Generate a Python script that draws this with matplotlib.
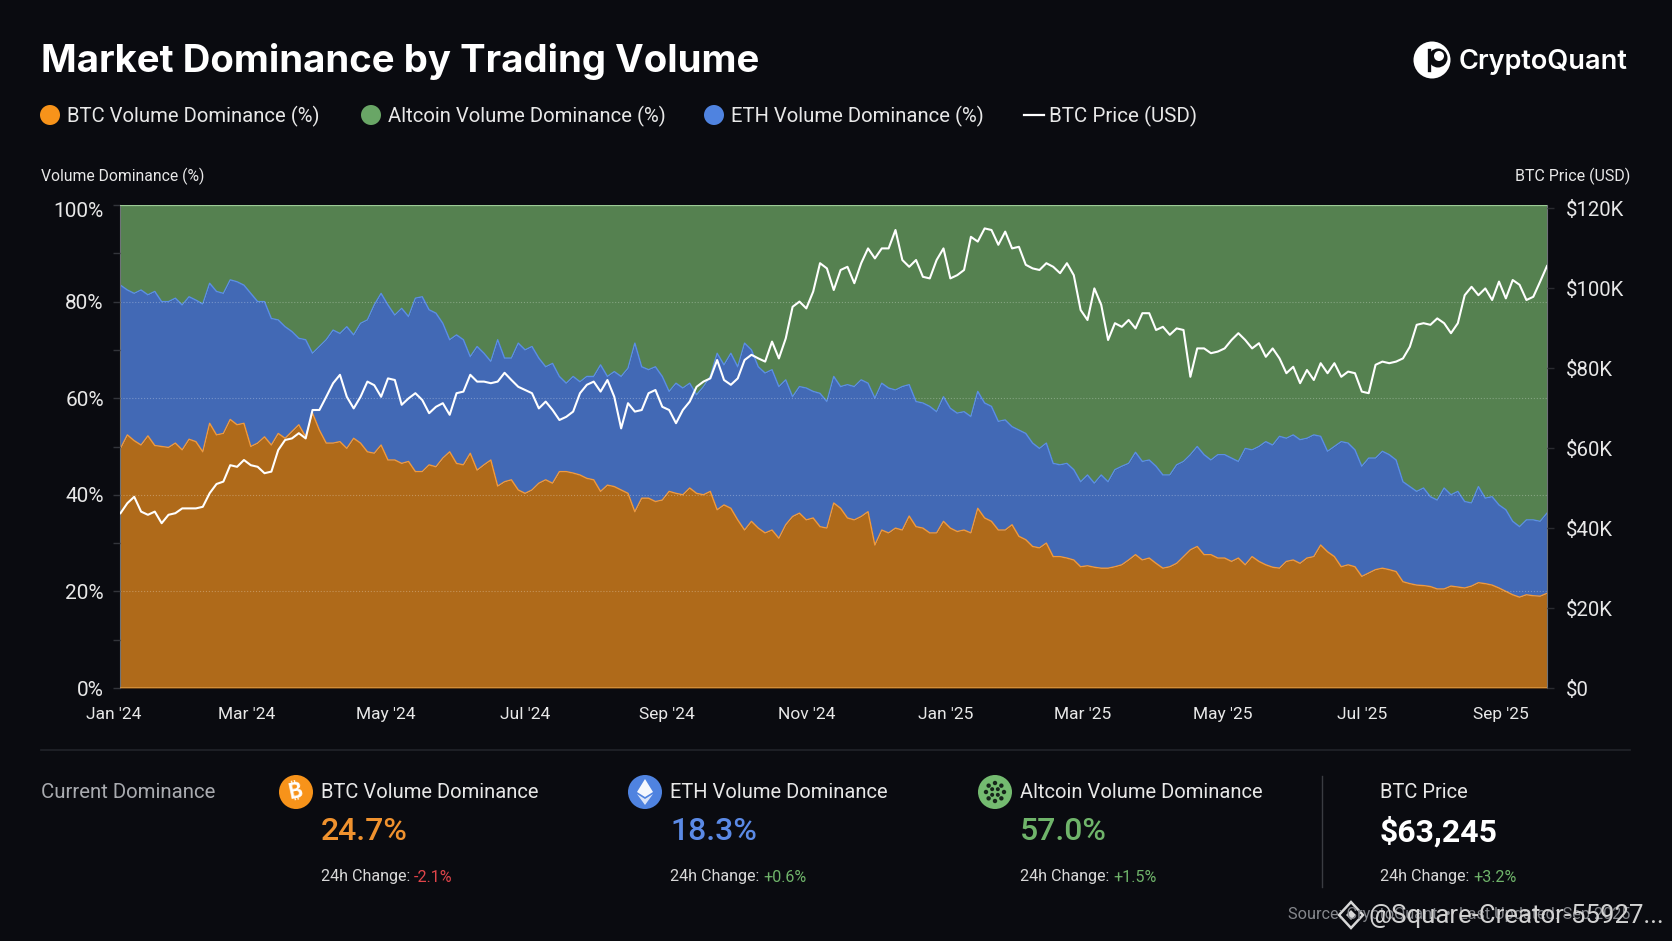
import numpy as np
import pandas as pd
import matplotlib
matplotlib.use('Agg')
import matplotlib.pyplot as plt
from matplotlib.patches import Circle, Polygon
from matplotlib.transforms import ScaledTranslation

plt.rcParams['font.family'] = ['Roboto', 'DejaVu Sans']

# values, one every 3 days
dates = pd.date_range('2024-01-06', periods=209, freq='3D')

btc_dom = [49.6, 52.4, 51.2, 50.3, 52.2, 50.2, 50.0, 49.8, 50.7, 49.3, 51.5, 51.0, 48.9, 54.8, 52.4, 52.7, 55.6, 54.5, 54.8, 50.0,
           50.7, 52.0, 50.3, 52.7, 51.7, 53.1, 54.5, 52.0, 56.9, 53.4, 50.7, 50.7, 51.0, 49.6, 51.7, 50.7, 48.9, 48.6, 50.3, 47.2,
           47.2, 46.5, 46.9, 44.8, 44.8, 46.2, 45.8, 47.6, 48.9, 46.5, 46.2, 48.6, 45.1, 46.2, 47.2, 41.8, 42.7, 43.1, 41.0, 40.3,
           41.0, 42.4, 43.1, 42.4, 44.8, 44.8, 44.5, 44.1, 43.4, 43.1, 40.7, 42.0, 41.7, 41.0, 40.3, 36.5, 39.3, 39.3, 38.6, 38.9,
           40.7, 40.3, 40.0, 41.4, 40.3, 40.0, 40.7, 36.9, 37.9, 37.2, 34.8, 32.7, 34.5, 33.1, 32.1, 32.7, 31.0, 33.8, 35.5, 36.2,
           34.8, 35.2, 33.4, 33.1, 38.3, 37.2, 35.2, 34.8, 35.5, 36.5, 29.6, 32.7, 32.1, 33.1, 32.7, 35.6, 33.4, 33.1, 32.1, 32.1,
           34.5, 33.1, 32.4, 32.7, 32.1, 37.2, 35.2, 34.5, 32.7, 32.7, 33.8, 31.4, 30.7, 29.3, 29.0, 30.0, 27.2, 27.2, 26.9, 26.5,
           25.1, 25.3, 25.0, 24.8, 24.8, 25.1, 25.5, 26.5, 27.6, 26.5, 26.9, 25.8, 24.8, 25.1, 25.8, 27.2, 28.6, 29.3, 27.6, 27.6,
           26.9, 26.9, 26.2, 26.9, 25.5, 27.2, 26.2, 25.5, 25.0, 24.8, 26.2, 26.5, 25.8, 26.9, 27.2, 29.6, 28.2, 27.2, 25.1, 25.5,
           25.1, 23.1, 23.8, 24.5, 24.8, 24.5, 24.1, 22.0, 21.6, 21.3, 21.2, 21.0, 20.5, 20.5, 21.1, 20.9, 20.7, 21.1, 21.8, 21.6,
           21.3, 20.7, 20.0, 19.3, 18.8, 19.3, 19.1, 19.0, 19.6]

# top of the ETH band (BTC + ETH)
btc_eth_dom = [83.4, 82.4, 81.7, 82.4, 81.4, 82.1, 80.0, 80.0, 80.7, 79.3, 81.0, 80.3, 79.5, 83.8, 82.1, 81.7, 84.5, 84.1, 83.4, 81.7,
               80.0, 80.0, 76.5, 76.2, 74.8, 73.8, 72.4, 72.1, 69.3, 70.7, 72.1, 74.1, 73.4, 74.8, 73.1, 75.5, 76.2, 79.3, 81.7, 79.3,
               77.2, 78.6, 76.9, 80.7, 81.0, 78.3, 77.6, 75.5, 72.1, 73.1, 72.1, 68.6, 70.7, 69.3, 67.6, 72.1, 68.3, 68.3, 71.4, 70.0,
               70.7, 68.3, 66.5, 67.2, 64.5, 63.1, 64.5, 63.4, 64.5, 64.5, 66.9, 64.5, 65.5, 64.5, 66.2, 71.4, 66.5, 65.9, 66.5, 64.5,
               61.4, 63.1, 62.1, 63.1, 60.7, 62.4, 64.5, 69.3, 66.9, 69.3, 66.5, 71.4, 70.0, 66.5, 65.2, 65.9, 62.4, 63.8, 60.3, 62.4,
               62.1, 61.4, 61.0, 59.3, 64.5, 62.4, 62.8, 62.4, 63.8, 63.1, 60.0, 63.1, 62.1, 61.7, 62.4, 62.8, 59.3, 59.0, 58.3, 57.2,
               60.3, 57.9, 56.9, 57.2, 56.2, 61.4, 59.0, 58.3, 55.2, 55.5, 54.1, 53.4, 52.7, 50.7, 49.6, 50.7, 46.5, 46.2, 46.5, 45.2,
               42.7, 44.1, 42.4, 44.1, 42.7, 45.2, 45.9, 46.5, 48.8, 46.9, 47.2, 45.9, 44.1, 44.1, 46.2, 46.9, 48.3, 50.0, 48.3, 47.2,
               48.3, 48.3, 47.6, 46.9, 49.6, 49.3, 50.0, 51.0, 50.3, 52.1, 51.7, 52.4, 51.4, 51.7, 52.4, 52.1, 49.0, 50.0, 51.0, 50.7,
               49.3, 45.9, 47.6, 47.6, 49.0, 48.3, 47.2, 42.7, 41.7, 40.7, 41.4, 39.6, 38.9, 41.4, 40.0, 40.7, 38.6, 38.3, 41.7, 39.3,
               39.6, 37.9, 36.9, 34.5, 33.4, 34.8, 34.8, 34.5, 36.2]

btc_price = [43.7, 46.2, 47.8, 44.1, 43.3, 44.1, 41.2, 43.3, 43.7, 44.9, 44.9, 44.9, 45.3, 48.7, 51.0, 51.6, 55.7, 55.3, 57.0, 55.7,
             55.3, 53.7, 54.1, 59.5, 62.0, 62.4, 63.7, 62.4, 69.5, 69.5, 72.8, 76.2, 78.3, 72.8, 69.9, 72.8, 76.6, 75.7, 72.8, 77.4,
             77.0, 70.8, 72.4, 73.7, 72.0, 68.7, 70.3, 71.2, 68.3, 73.7, 74.1, 78.3, 76.6, 76.6, 76.2, 76.6, 78.8, 77.0, 75.3, 74.5,
             73.7, 69.9, 71.6, 69.5, 67.0, 67.8, 69.1, 73.7, 75.8, 76.6, 74.1, 77.0, 72.8, 64.9, 71.2, 69.1, 69.5, 73.7, 74.5, 70.3,
             69.5, 66.2, 69.5, 71.6, 75.3, 76.6, 77.4, 82.0, 77.0, 75.8, 77.4, 82.0, 83.3, 82.4, 81.6, 86.6, 82.4, 87.4, 95.3, 96.6,
             94.9, 99.1, 106.2, 104.9, 99.5, 104.5, 105.3, 101.2, 106.2, 109.9, 107.4, 109.9, 109.9, 114.5, 107.0, 105.3, 107.0, 102.8, 102.4, 107.0,
             109.9, 102.4, 103.2, 104.5, 112.8, 111.6, 114.9, 114.5, 110.8, 114.1, 109.9, 110.3, 105.8, 104.9, 104.5, 106.2, 105.3, 103.7, 106.2, 103.2,
             94.5, 92.0, 99.9, 95.8, 87.0, 91.2, 90.3, 92.0, 89.9, 93.7, 93.7, 89.5, 90.3, 88.3, 89.9, 89.5, 77.8, 84.9, 84.9, 83.7,
             84.1, 84.9, 87.0, 88.7, 87.0, 84.9, 86.2, 82.8, 84.9, 82.4, 78.7, 80.3, 76.2, 79.5, 77.0, 81.2, 78.7, 81.2, 77.8, 79.1,
             78.7, 74.1, 73.7, 80.8, 81.6, 81.2, 81.6, 82.4, 85.3, 90.8, 91.2, 90.8, 92.4, 91.2, 88.7, 91.2, 98.2, 100.3, 98.2, 99.9,
             97.0, 101.6, 97.4, 102.0, 100.8, 97.0, 97.8, 101.6, 105.5]

month_ticks = ['2024-03-01', '2024-05-01', '2024-07-01', '2024-09-01', '2024-11-01', '2025-01-01', '2025-03-02', '2025-05-02', '2025-07-02', '2025-09-01']
month_labels = ["Mar '24", "May '24", "Jul '24", "Sep '24", "Nov '24", "Jan '25", "Mar '25", "May '25", "Jul '25", "Sep '25"]
pct_ticks = [0, 20, 40, 60, 80, 100]
price_ticks = [0, 20, 40, 60, 80, 100, 120]

BG = '#0a0b10'
W, H = 1672, 941
fig = plt.figure(figsize=(W / 100, H / 100), dpi=100, facecolor=BG)

# chart area in pixels
left, right, top, bottom = 120.5, 1547, 205, 688
ax = fig.add_axes([left / W, 1 - bottom / H, (right - left) / W, (bottom - top) / H])
ax.set_facecolor(BG)

ax.fill_between(dates, btc_eth_dom, 100, color='#558150', lw=0)
ax.fill_between(dates, btc_dom, btc_eth_dom, color='#4269b5', lw=0)
ax.fill_between(dates, 0, btc_dom, color='#af6a1a', lw=0)
ax.plot(dates, btc_eth_dom, color='#5b8fe6', lw=1.0)
ax.plot(dates, btc_dom, color='#f09a3e', lw=1.0)
ax.axhline(100, color='#9ccb96', lw=1.6, zorder=3)
ax.axhline(0, color='#d9953f', lw=1.2, zorder=3)

ax.set_xlim(dates[0], dates[-1])
ax.set_ylim(0, 100)
ax.set_yticks(pct_ticks)
ax.set_yticklabels([f'{p}%' for p in pct_ticks])
ax.set_yticks(np.arange(10, 100, 20), minor=True)
ax.set_xticks(pd.to_datetime(month_ticks))
ax.set_xticklabels(month_labels)
ax.tick_params(axis='y', which='both', length=5, width=1, color='#33353b', labelcolor='#e8e8e8', labelsize=15, pad=7)
ax.tick_params(axis='x', length=0, labelcolor='#e8e8e8', labelsize=12.5, pad=14)
ax.grid(axis='y', color='white', alpha=0.28, ls=':', lw=0.8)
ax.set_axisbelow(False)
for s in ['top', 'bottom']:
    ax.spines[s].set_visible(False)
ax.spines['left'].set_color('#6f7378')
ax.spines['right'].set_color('#6f7378')

# the 100% label sits a bit under its tick
lab100 = ax.get_yticklabels()[-1]
lab100.set_transform(lab100.get_transform() + ScaledTranslation(0, -3 / 72, fig.dpi_scale_trans))

# Jan '24 sits left of the first date
ax.annotate("Jan '24", xy=(-7, 0), xycoords=('axes pixels', 'axes fraction'), xytext=(0, -19),
            textcoords='offset points', ha='center', va='center', color='#e8e8e8', fontsize=12.5, annotation_clip=False)

ax2 = ax.twinx()
ax2.plot(dates, btc_price, color='white', lw=1.5, solid_joinstyle='round')
ax2.set_ylim(0, 120.75)
ax2.set_yticks(price_ticks)
ax2.set_yticklabels(['$0'] + [f'${p}K' for p in price_ticks[1:]])
ax2.tick_params(axis='y', length=5, width=1, color='#2a2c31', labelcolor='#e8e8e8', labelsize=14.7, pad=8.5)
for s in ax2.spines.values():
    s.set_visible(False)

# everything around the chart, drawn in pixel coordinates
ui = fig.add_axes([0, 0, 1, 1], zorder=5)
ui.set_xlim(0, W)
ui.set_ylim(H, 0)
ui.axis('off')
ui.patch.set_alpha(0)


def label(x, y, s, size, color='white', **kw):
    kw.setdefault('va', 'center')
    return ui.text(x, y, s, fontsize=size, color=color, **kw)


label(41, 61, 'Market Dominance by Trading Volume', 27.6, weight='bold', family=['Inter'])

for x, c, s in [(50, '#f7931a', 'BTC Volume Dominance (%)'), (371, '#69a666', 'Altcoin Volume Dominance (%)'),
                (714, '#4f83e0', 'ETH Volume Dominance (%)')]:
    ui.add_patch(Circle((x, 115), 10, color=c, lw=0))
    label(x + 17, 116, s, 14.55, '#e8e8e8')
ui.plot([1024, 1044], [115, 115], color='white', lw=1.6)
label(1049, 116, 'BTC Price (USD)', 14.8, '#e8e8e8')

label(41, 176, 'Volume Dominance (%)', 11.3, '#e8e8e8')
label(1630, 176, 'BTC Price (USD)', 11.5, '#e8e8e8', ha='right')

# logo
ui.add_patch(Circle((1432, 60), 18.5, color='white', lw=0))
ui.add_patch(Circle((1438, 58), 9.5, color=BG, lw=0))
ui.add_patch(Circle((1439, 56), 5, color='white', lw=0))
ui.plot([1429, 1429], [50, 70], color=BG, lw=2.4)
label(1459, 62, 'CryptoQuant', 19.5, weight='semibold', family=['Inter'])

ui.plot([41, 1630], [750, 750], color='#22242a', lw=1.2)
ui.plot([1322, 1322], [776, 887], color='#3a3c42', lw=1)
label(41, 792, 'Current Dominance', 14.7, '#a9abb0')


def stat(x, title, value, value_color, change, change_color, bold=False):
    label(x, 792, title, 14.5, '#e8e8e8')
    label(x, 832, value, 23, value_color, weight='bold' if bold else 'medium')
    t = label(x, 877, '24h Change: ', 11.6, '#d8d8d8')
    ui.annotate(change, xy=(1, 0.5), xycoords=t, va='center', fontsize=11.6, color=change_color)


stat(321, 'BTC Volume Dominance', '24.7%', '#f0922e', '-2.1%', '#e0454a')
stat(670, 'ETH Volume Dominance', '18.3%', '#5b8ae6', '+0.6%', '#6fb46a')
stat(1020, 'Altcoin Volume Dominance', '57.0%', '#6fb46a', '+1.5%', '#6fb46a')
stat(1380, 'BTC Price', '$63,245', 'white', '+3.2%', '#6fb46a', bold=True)

# stat icons
ui.add_patch(Circle((296, 792), 17, color='#f7931a', lw=0))
ui.text(296, 792, '\u20bf', fontsize=15, color='white', ha='center', va='center', weight='bold',
        family=['Inter', 'Noto Sans', 'Open Sans', 'Lato'], rotation=12)
ui.add_patch(Circle((645, 792), 17, color='#4f83e0', lw=0))
ui.add_patch(Polygon([(645, 779), (653, 792), (645, 797), (637, 792)], color='white', alpha=0.95, lw=0))
ui.add_patch(Polygon([(637, 794), (645, 799), (653, 794), (645, 805)], color='white', alpha=0.8, lw=0))
ui.add_patch(Circle((995, 792), 17, color='#74bb70', lw=0))
for a, r, s in [(i * 45, 9, 2.2) for i in range(8)] + [(i * 90 + 45, 4, 2.0) for i in range(4)]:
    ui.add_patch(Circle((995 + r * np.cos(np.radians(a)), 792 + r * np.sin(np.radians(a))), s, color='#16251a', lw=0))

label(1630, 915, 'Source: CryptoQuant  \u2022  Last Updated: Sep 2025', 11.7, '#85878c', ha='right')

# watermark over the source line
ui.add_patch(Polygon([(1351, 902), (1363, 915), (1351, 928), (1339, 915)], fill=False, ec='#d8d8d8', lw=1.8))
ui.add_patch(Polygon([(1351, 910), (1356, 915), (1351, 920), (1346, 915)], color='#d8d8d8', lw=0))
label(1368, 916, '@Square-Creator-55927...', 18.5, '#d2d2d2')

fig.savefig('out.png', dpi=100, facecolor=BG)
